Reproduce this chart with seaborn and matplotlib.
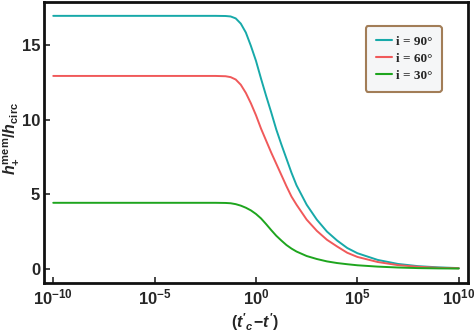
import numpy as np
import pandas as pd
import matplotlib
matplotlib.use("Agg")
import matplotlib.pyplot as plt
import seaborn as sns

# log10 of (t'_c - t') at which the memory amplitude is sampled
log_t = [-10, -5, -2, -1.5, -1.25, -1, -0.75, -0.5, -0.25, 0, 0.25, 0.5, 0.75, 1,
         1.25, 1.5, 1.75, 2, 2.5, 3, 3.5, 4, 4.5, 5, 6, 7, 8, 9, 10]

# h_+^mem / h_circ for three inclinations
h_i90 = [16.97, 16.97, 16.97, 16.96, 16.93, 16.8, 16.45, 15.85, 14.95, 13.95, 12.75, 11.6, 10.5, 9.35,
         8.35, 7.4, 6.45, 5.6, 4.3, 3.3, 2.5, 1.9, 1.4, 1.05, 0.6, 0.33, 0.18, 0.1, 0.05]
h_i60 = [12.94, 12.94, 12.94, 12.92, 12.86, 12.7, 12.35, 11.8, 11.1, 10.3, 9.4, 8.6, 7.8, 7.05,
         6.3, 5.55, 4.85, 4.3, 3.3, 2.55, 1.95, 1.5, 1.08, 0.8, 0.46, 0.25, 0.14, 0.07, 0.04]
h_i30 = [4.43, 4.43, 4.43, 4.42, 4.4, 4.34, 4.24, 4.1, 3.92, 3.68, 3.38, 3.0, 2.6, 2.22,
         1.9, 1.6, 1.36, 1.16, 0.86, 0.66, 0.5, 0.39, 0.31, 0.24, 0.15, 0.09, 0.05, 0.03, 0.02]

labels = ["i = 90°", "i = 60°", "i = 30°"]
colors = ["#17a9a9", "#f0595a", "#1ea51e"]

rows = []
for lab, vals in zip(labels, [h_i90, h_i60, h_i30]):
    for lt, v in zip(log_t, vals):
        rows.append({"t": 10.0 ** lt, "h": v, "series": lab})
df = pd.DataFrame(rows)

sns.set_style("ticks")
plt.rcParams["font.family"] = ["Liberation Sans", "DejaVu Sans"]
plt.rcParams["mathtext.fontset"] = "custom"
plt.rcParams["mathtext.rm"] = "Liberation Sans:bold"
plt.rcParams["mathtext.it"] = "Liberation Sans:italic:bold"
plt.rcParams["mathtext.bf"] = "Liberation Sans:bold"

fig = plt.figure(figsize=(4.74, 3.32), dpi=100)
ax = fig.add_axes([0.0935, 0.148, 0.894, 0.846])

sns.lineplot(data=df, x="t", y="h", hue="series", hue_order=labels,
             palette=dict(zip(labels, colors)), linewidth=1.4, ax=ax)

ax.set_xscale("log")
ax.set_xlim(10 ** -10.44, 10 ** 10.46)
ax.set_ylim(-0.94, 17.9)
ax.set_xticks([1e-10, 1e-5, 1e0, 1e5, 1e10])
ax.set_xticklabels([r"$\mathbf{10^{-10}}$", r"$\mathbf{10^{-5}}$", r"$\mathbf{10^{0}}$",
                    r"$\mathbf{10^{5}}$", r"$\mathbf{10^{10}}$"])
ax.xaxis.set_minor_locator(matplotlib.ticker.NullLocator())
ax.set_yticks([0, 5, 10, 15])

ax.tick_params(direction="in", length=4, width=1.2, labelsize=12, pad=3)
for lab in ax.get_yticklabels():
    lab.set_fontweight("bold")
for sp in ax.spines.values():
    sp.set_visible(True)
    sp.set_linewidth(2.0)
    sp.set_color("#111111")

ax.set_xlabel(r"$(t'_{c}\!-\!t')$", fontsize=11.5)
ax.xaxis.set_label_coords(0.497, -0.1)
ax.set_ylabel(r"$h_{+}^{\rm mem}/h_{\rm circ}$", fontsize=11.5)
ax.yaxis.set_label_coords(-0.055, 0.515)

leg = ax.legend(loc="upper right", bbox_to_anchor=(0.938, 0.915), frameon=True,
                fancybox=True, handlelength=1.2, handletextpad=0.3,
                borderpad=0.75, labelspacing=0.35, borderaxespad=0.0,
                prop={"family": "Liberation Serif", "weight": "bold", "size": 9.5})
frame = leg.get_frame()
frame.set_edgecolor("#a27d57")
frame.set_facecolor("#f5f6f7")
frame.set_linewidth(1.5)
frame.set_alpha(1.0)
for line in leg.get_lines():
    line.set_linewidth(1.5)

fig.savefig("out.png", dpi=100)
